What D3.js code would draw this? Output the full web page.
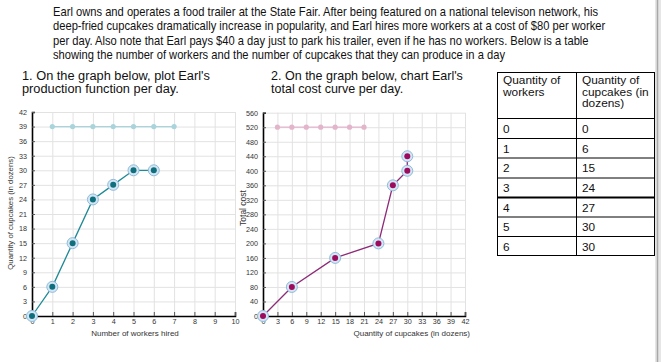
<!DOCTYPE html>
<html><head><meta charset="utf-8">
<script src="https://cdn.jsdelivr.net/npm/d3@7/dist/d3.min.js"></script>
<style>
body{margin:0;background:#fff;font-family:"Liberation Sans",Arial,sans-serif;}
svg{display:block;}
</style></head>
<body><svg id="c" width="661" height="362"></svg>
<script>
const introLines = [
 "Earl owns and operates a food trailer at the State Fair. After being featured on a national televison network, his",
 "deep-fried cupcakes dramatically increase in popularity, and Earl hires more workers at a cost of $80 per worker",
 "per day. Also note that Earl pays $40 a day just to park his trailer, even if he has no workers. Below is a table",
 "showing the number of workers and the number of cupcakes that they can produce in a day"
];
const q1Lines = ["1. On the graph below, plot Earl's", "production function per day."];
const q2Lines = ["2. On the graph below, chart Earl's", "total cost curve per day."];

const workers = [0,1,2,3,4,5,6];
const cupcakes = [0,6,15,24,27,30,30];
const costQty = [0,6,15,24,27,30,30];
const totalCost = [0,80,160,200,360,400,440];

const paletteTealX = [1,2,3,4,5,6,7];
const paletteTealY = 39;
const palettePinkX = [3,6,9,12,15,18,21];
const palettePinkY = 520;

const xTicks1 = d3.range(0,11,1);
const yTicks1 = d3.range(0,43,3);
const xTicks2 = d3.range(0,43,3);
const yTicks2 = d3.range(0,561,40);

const tableHeader = ["Quantity of|workers", "Quantity of|cupcakes (in|dozens)"];

const svg = d3.select("#c");
const font = '"Liberation Sans",Arial,sans-serif';

svg.append("rect").attr("x",655).attr("y",0).attr("width",6).attr("height",362).attr("fill","#e6e6e6");
svg.append("line").attr("x1",657.5).attr("x2",657.5).attr("y1",0).attr("y2",362).attr("stroke","#a8a8a8").attr("stroke-width",1.5);

function block(lines, x, y0, lh, fs, targetW){
  const g = svg.append("g");
  const t = g.selectAll("text").data(lines).join("text")
    .attr("x",0).attr("y",(d,i)=>y0+i*lh)
    .attr("font-family",font).attr("font-size",fs).attr("fill","#111").text(d=>d);
  const w = t.node().getComputedTextLength();
  g.attr("transform",`translate(${x},0) scale(${targetW/w},1)`);
}
block(introLines, 53, 16, 14.5, 12.4, 545);
block(q1Lines, 22, 80.5, 12.3, 12, 188);
block(q2Lines, 271, 80.5, 12.3, 12, 192);

function chart(opt){
  const g = svg.append("g");
  const x = d3.scaleLinear().domain(opt.xd).range(opt.xr);
  const y = d3.scaleLinear().domain(opt.yd).range(opt.yr);
  g.append("g").selectAll("line").data(opt.xt).join("line")
    .attr("x1",d=>x(d)+0.5).attr("x2",d=>x(d)+0.5).attr("y1",opt.yr[1]).attr("y2",opt.yr[0])
    .attr("stroke","#e2e2e2").attr("stroke-width",1);
  g.append("g").selectAll("line").data(opt.yt).join("line")
    .attr("y1",d=>y(d)+0.5).attr("y2",d=>y(d)+0.5).attr("x1",opt.xr[0]).attr("x2",opt.xr[1])
    .attr("stroke","#e2e2e2").attr("stroke-width",1);
  const ax = g.append("g").attr("transform",`translate(0,${opt.yr[0]})`)
    .call(d3.axisBottom(x).tickValues(opt.xt).tickSize(-4).tickPadding(3).tickFormat(d3.format("d")));
  const ay = g.append("g").attr("transform",`translate(${opt.xr[0]},0)`)
    .call(d3.axisLeft(y).tickValues(opt.yt).tickSize(-3).tickPadding(5).tickFormat(d3.format("d")));
  [ax,ay].forEach(a=>{
    a.select(".domain").attr("stroke","#000").attr("stroke-width",1.6);
    a.selectAll(".tick line").attr("stroke","#555");
    a.selectAll("text").attr("font-family",font).attr("font-size",7.2).attr("fill","#333");
  });
  const pl = opt.palX.map(v=>[x(v),y(opt.palY)]);
  g.append("path").attr("d",d3.line()(pl)).attr("fill","none").attr("stroke",opt.palColor).attr("stroke-width",1.2);
  g.append("g").selectAll("circle").data(pl).join("circle")
    .attr("cx",d=>d[0]).attr("cy",d=>d[1]).attr("r",2.6).attr("fill",opt.palColor);
  const pts = opt.xs.map((v,i)=>[x(v),y(opt.ys[i])]);
  g.append("path").attr("d",d3.line()(pts)).attr("fill","none").attr("stroke",opt.lineColor).attr("stroke-width",1.3);
  g.append("g").selectAll("circle").data(pts).join("circle")
    .attr("cx",d=>d[0]).attr("cy",d=>d[1]).attr("r",5.5).attr("fill","#d4e6f3").attr("stroke","#8fbbdc").attr("stroke-width",1);
  g.append("g").selectAll("circle").data(pts).join("circle")
    .attr("cx",d=>d[0]).attr("cy",d=>d[1]).attr("r",3).attr("fill",opt.dotColor);
  g.append("text").attr("x",opt.xtX).attr("y",336).attr("text-anchor",opt.xtAnchor)
    .attr("font-family",font).attr("font-size",8).attr("fill","#333").text(opt.xTitle);
  g.append("text").attr("transform",`translate(${opt.ytX},${opt.ytY}) rotate(-90)`).attr("text-anchor","middle")
    .attr("font-family",font).attr("font-size",opt.ytSize).attr("fill","#333").text(opt.yTitle);
}

chart({xd:[0,10],xr:[32,235],yd:[0,42],yr:[316,112],xt:xTicks1,yt:yTicks1,
  palX:paletteTealX,palY:paletteTealY,palColor:"#a9d4dc",
  xs:workers,ys:cupcakes,lineColor:"#1f8a96",dotColor:"#0f6f7c",
  xTitle:"Number of workers hired",xtX:135,xtAnchor:"middle",
  yTitle:"Quantity of cupcakes (in dozens)",ytX:13,ytY:213,ytSize:7.8});

chart({xd:[0,42],xr:[263,465],yd:[0,560],yr:[316,112.7],xt:xTicks2,yt:yTicks2,
  palX:palettePinkX,palY:palettePinkY,palColor:"#e2b5cb",
  xs:costQty,ys:totalCost,lineColor:"#8e2a78",dotColor:"#9c0b5e",
  xTitle:"Quantity of cupcakes (in dozens)",xtX:470,xtAnchor:"end",
  yTitle:"Total cost",ytX:246,ytY:208,ytSize:8.5});

const tX = [497,576,654];
const rowY = [72,118,138,157.5,177.5,197,216.5,236,255];
const tg = svg.append("g");
tg.append("rect").attr("x",tX[0]+0.5).attr("y",rowY[0]+0.5).attr("width",tX[2]-tX[0]).attr("height",rowY[8]-rowY[0])
  .attr("fill","none").attr("stroke","#000").attr("stroke-width",1);
tg.append("line").attr("x1",tX[1]+0.5).attr("x2",tX[1]+0.5).attr("y1",rowY[0]).attr("y2",rowY[8]).attr("stroke","#000");
tg.selectAll("line.r").data(rowY.slice(1,8)).join("line").attr("class","r")
  .attr("x1",tX[0]).attr("x2",tX[2]).attr("y1",d=>d+0.5).attr("y2",d=>d+0.5)
  .attr("stroke","#000").attr("stroke-width",(d,i)=>i===4?2.2:1);
tableHeader.forEach((h,c)=>{
  const hg = tg.append("g").attr("transform",`translate(${tX[c]+6},0) scale(1.07,1)`);
  h.split("|").forEach((ln,k)=>{
    hg.append("text").attr("x",0).attr("y",rowY[0]+12+k*11.6)
      .attr("font-family",font).attr("font-size",11.1).attr("fill","#111").text(ln);
  });
});
workers.forEach((w,i)=>{
  [w,cupcakes[i]].forEach((v,c)=>{
    tg.append("text").attr("x",tX[c]+6).attr("y",rowY[i+1]+14.5)
      .attr("font-family",font).attr("font-size",11.8).attr("fill","#111").text(v);
  });
});
</script></body></html>
